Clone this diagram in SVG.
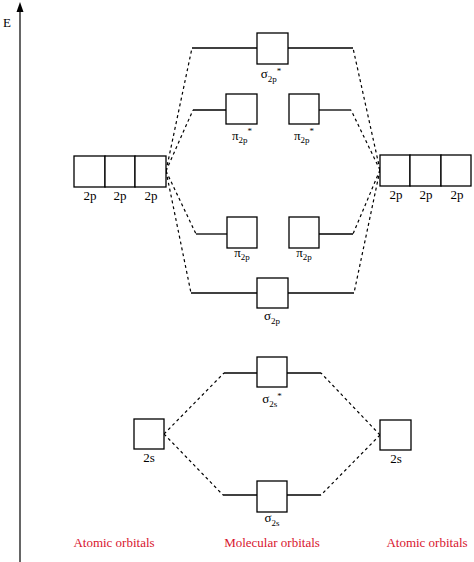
<svg xmlns="http://www.w3.org/2000/svg" width="474" height="562" viewBox="0 0 474 562">
<style>
.box{fill:#fff;stroke:#000;stroke-width:1.3}
.lvl{stroke:#000;stroke-width:1.3;fill:none}
.dash{stroke:#000;stroke-width:1.2;fill:none;stroke-dasharray:3 3}
text{font-family:"Liberation Serif","Times New Roman",serif;font-size:13px;fill:#000}
.c{text-anchor:middle}
.s{font-size:9px}
.red{fill:#d8142e}
</style>
<defs>
<marker id="ah" markerWidth="8" markerHeight="10" refX="4" refY="1" orient="auto" markerUnits="userSpaceOnUse">
</marker>
</defs>
<g id="axis">
<line x1="20" y1="10" x2="20" y2="562" stroke="#555" stroke-width="1.8"/>
<polygon points="20,2 16.5,12 23.5,12" fill="#000"/>
<text x="3" y="27">E</text>
</g>
<g id="connectors">
<polyline class="lvl" points="192,48 257,48"/><polyline class="lvl" points="288,48 353,48"/>
<polyline class="lvl" points="193,110 226,110"/><polyline class="lvl" points="319,110 351,110"/>
<polyline class="lvl" points="196,234 227,234"/><polyline class="lvl" points="319,234 353,234"/>
<polyline class="lvl" points="191,293 257,293"/><polyline class="lvl" points="288,293 354,293"/>
<polyline class="lvl" points="224,373 257,373"/><polyline class="lvl" points="287,373 321,373"/>
<polyline class="lvl" points="223,495 257,495"/><polyline class="lvl" points="287,495 321,495"/>
<line class="dash" x1="166" y1="171" x2="192" y2="48"/>
<line class="dash" x1="166" y1="171" x2="193" y2="110"/>
<line class="dash" x1="166" y1="171" x2="196" y2="234"/>
<line class="dash" x1="166" y1="171" x2="191" y2="293"/>
<line class="dash" x1="380" y1="170" x2="353" y2="48"/>
<line class="dash" x1="380" y1="170" x2="351" y2="110"/>
<line class="dash" x1="380" y1="170" x2="353" y2="234"/>
<line class="dash" x1="380" y1="170" x2="354" y2="293"/>
<line class="dash" x1="164" y1="434" x2="224" y2="373"/>
<line class="dash" x1="164" y1="434" x2="223" y2="495"/>
<line class="dash" x1="380" y1="435" x2="321" y2="373"/>
<line class="dash" x1="380" y1="435" x2="321" y2="495"/>
</g>
<g id="left-2p">
<rect class="box" x="74" y="156" width="31" height="31"/>
<rect class="box" x="105" y="156" width="30" height="31"/>
<rect class="box" x="135" y="156" width="31" height="31"/>
<text class="c" x="90" y="200">2p</text>
<text class="c" x="120" y="200">2p</text>
<text class="c" x="151" y="200">2p</text>
</g>
<g id="right-2p">
<rect class="box" x="380" y="155" width="30" height="31"/>
<rect class="box" x="410" y="155" width="31" height="31"/>
<rect class="box" x="441" y="155" width="30" height="31"/>
<text class="c" x="396" y="199">2p</text>
<text class="c" x="426" y="199">2p</text>
<text class="c" x="457" y="199">2p</text>
</g>
<g id="sigma2p-star">
<rect class="box" x="257" y="33" width="31" height="31"/>
<text class="c" x="271" y="78">σ<tspan class="s" dy="4">2p</tspan><tspan class="s" dy="-8">*</tspan></text>
</g>
<g id="pi2p-star-left">
<rect class="box" x="226" y="94" width="31" height="30"/>
<text class="c" x="242" y="140">π<tspan class="s" dy="3">2p</tspan><tspan class="s" dy="-9">*</tspan></text>
</g>
<g id="pi2p-star-right">
<rect class="box" x="289" y="94" width="30" height="30"/>
<text class="c" x="304" y="140">π<tspan class="s" dy="3">2p</tspan><tspan class="s" dy="-9">*</tspan></text>
</g>
<g id="pi2p-left">
<rect class="box" x="227" y="217" width="30" height="31"/>
<text class="c" x="242" y="257">π<tspan class="s" dy="3">2p</tspan></text>
</g>
<g id="pi2p-right">
<rect class="box" x="289" y="217" width="30" height="31"/>
<text class="c" x="304" y="257">π<tspan class="s" dy="3">2p</tspan></text>
</g>
<g id="sigma2p">
<rect class="box" x="257" y="278" width="31" height="30"/>
<text class="c" x="272" y="320">σ<tspan class="s" dy="4">2p</tspan></text>
</g>
<g id="sigma2s-star">
<rect class="box" x="257" y="357" width="30" height="30"/>
<text class="c" x="272" y="403">σ<tspan class="s" dy="4">2s</tspan><tspan class="s" dy="-8">*</tspan></text>
</g>
<g id="sigma2s">
<rect class="box" x="257" y="481" width="30" height="31"/>
<text class="c" x="272" y="522">σ<tspan class="s" dy="4">2s</tspan></text>
</g>
<g id="left-2s">
<rect class="box" x="134" y="419" width="30" height="30"/>
<text class="c" x="149" y="462">2s</text>
</g>
<g id="right-2s">
<rect class="box" x="380" y="420" width="31" height="30"/>
<text class="c" x="396" y="463">2s</text>
</g>
<g id="captions">
<text class="c red" x="114" y="547">Atomic orbitals</text>
<text class="c red" x="272" y="547">Molecular orbitals</text>
<text class="c red" x="427" y="547">Atomic orbitals</text>
</g>
</svg>
